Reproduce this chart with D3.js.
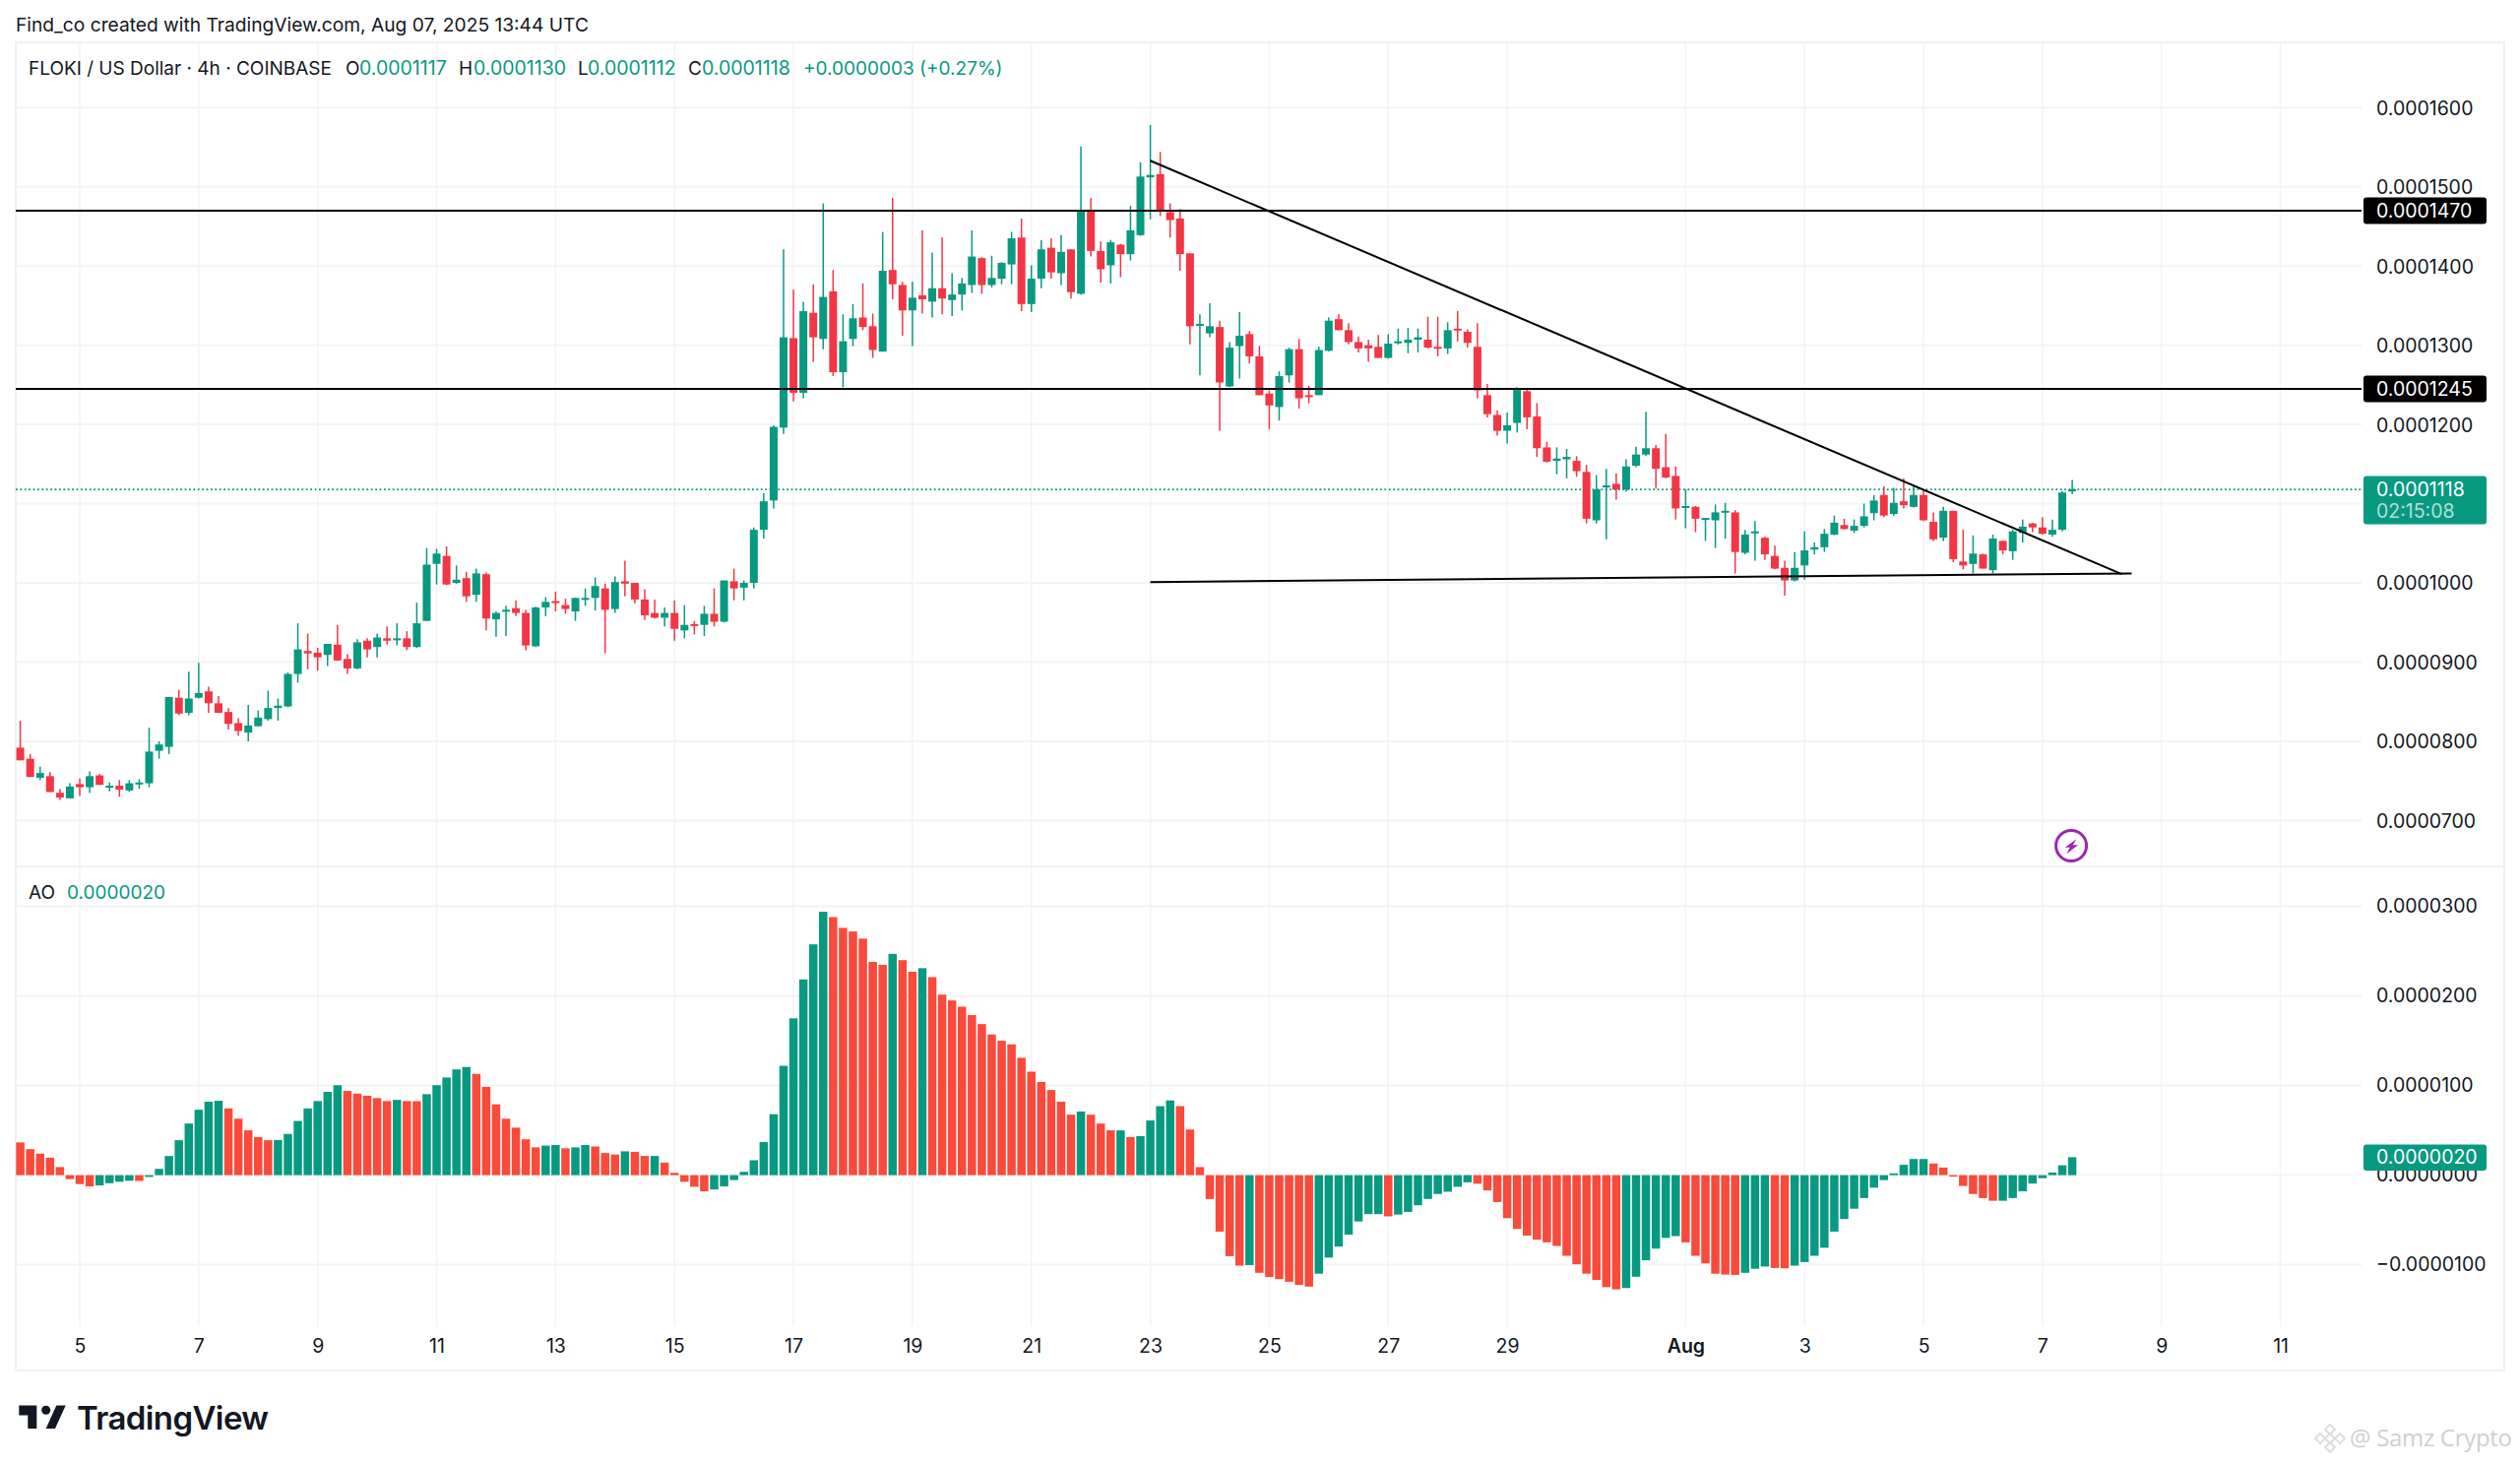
<!DOCTYPE html>
<html>
<head>
<meta charset="utf-8">
<title>FLOKI / US Dollar 4h</title>
<script src="https://cdn.jsdelivr.net/npm/d3@7"></script>
<style>
  html, body { margin: 0; padding: 0; background: #fff; }
  svg { display: block; }
  text { font-family: Inter, "Noto Sans", sans-serif; }
</style>
</head>
<body>
<svg id="chart" width="2560" height="1488"></svg>
<script>
// prices are in units of 0.0000001, bars are 4h starting Jul 4 00:00
const candleOpen = [
  792,778,754,756,735,728,746,742,757,742,
  744,738,746,747,788,793,855,836,855,863,
  848,837,823,811,819,828,842,844,885,914,
  912,909,922,904,892,927,919,930,928,930,
  919,952,1024,1034,1000,1006,985,1011,954,964,
  968,962,920,969,977,972,964,980,981,993,
  967,1002,1000,979,962,956,962,940,948,947,
  961,951,1002,994,1000,1067,1104,1196,1309,1240,
  1341,1308,1368,1266,1308,1335,1324,1292,1395,1376,
  1344,1363,1355,1372,1357,1364,1376,1410,1376,1384,
  1402,1436,1352,1384,1423,1391,1421,1365,1471,1419,
  1401,1427,1415,1439,1512,1516,1468,1460,1416,1325,
  1315,1323,1248,1299,1314,1286,1239,1222,1262,1295,
  1237,1237,1293,1333,1319,1304,1300,1298,1284,1303,
  1303,1307,1307,1298,1296,1321,1317,1298,1237,1212,
  1192,1202,1242,1210,1171,1154,1156,1154,1140,1079,
  1121,1125,1118,1148,1162,1170,1146,1135,1095,1096,
  1080,1079,1090,1089,1038,1063,1057,1034,1019,1003,
  1022,1042,1045,1061,1073,1066,1072,1088,1111,1087,
  1103,1096,1111,1077,1057,1091,1027,1024,1036,1016,
  1053,1040,1063,1075,1070,1061,1067,1117
];
const candleHigh = [
  826,784,768,761,740,747,753,762,759,748,
  751,751,752,817,800,856,865,888,899,869,
  857,842,829,846,839,864,854,887,949,936,
  918,923,947,910,929,930,936,945,949,939,
  975,1044,1043,1046,1022,1014,1018,1013,964,971,
  978,966,970,982,989,980,981,993,1007,999,
  1008,1028,1000,992,979,969,978,972,952,971,
  993,1003,1018,1003,1070,1113,1199,1421,1370,1355,
  1377,1479,1395,1339,1352,1378,1340,1443,1486,1380,
  1380,1445,1417,1436,1391,1385,1445,1411,1413,1405,
  1443,1460,1401,1433,1435,1439,1421,1551,1486,1431,
  1433,1428,1476,1531,1578,1544,1479,1472,1416,1339,
  1353,1331,1304,1342,1318,1299,1243,1267,1297,1308,
  1249,1298,1335,1339,1328,1311,1307,1313,1314,1321,
  1322,1321,1336,1336,1329,1343,1320,1328,1251,1218,
  1215,1247,1244,1227,1178,1171,1169,1160,1149,1136,
  1144,1138,1156,1172,1216,1174,1188,1147,1118,1097,
  1082,1099,1101,1092,1067,1078,1058,1047,1028,1039,
  1065,1051,1068,1085,1081,1080,1100,1111,1122,1120,
  1132,1122,1118,1089,1096,1091,1067,1060,1037,1061,
  1053,1067,1080,1076,1083,1080,1116,1130
];
const candleLow = [
  776,755,751,736,726,728,731,735,745,737,
  730,736,740,742,778,784,833,833,854,836,
  836,815,807,800,819,826,826,843,874,891,
  889,895,902,885,891,906,906,922,921,915,
  918,952,998,997,999,976,976,940,932,933,
  958,915,919,958,964,961,952,971,965,911,
  962,983,974,953,955,945,927,930,935,933,
  945,950,978,978,993,1056,1094,1188,1229,1233,
  1279,1295,1261,1247,1299,1319,1284,1292,1358,1312,
  1299,1340,1335,1339,1337,1344,1366,1365,1373,1377,
  1377,1343,1342,1372,1384,1376,1359,1364,1412,1379,
  1378,1386,1407,1438,1459,1463,1436,1394,1301,1262,
  1310,1192,1247,1258,1277,1237,1194,1205,1253,1220,
  1227,1237,1292,1319,1301,1291,1279,1284,1283,1301,
  1290,1291,1296,1286,1289,1305,1297,1233,1209,1186,
  1176,1190,1194,1159,1152,1137,1132,1134,1075,1075,
  1055,1105,1115,1146,1160,1119,1132,1080,1069,1064,
  1053,1044,1056,1012,1036,1028,1029,1017,984,1002,
  1004,1036,1039,1060,1067,1063,1070,1079,1083,1085,
  1094,1095,1078,1053,1053,1026,1017,1012,1018,1012,
  1036,1029,1051,1064,1061,1058,1065,1112
];
const candleClose = [
  776,755,760,736,729,743,742,756,745,744,
  739,747,748,787,796,856,835,854,861,848,
  836,822,813,820,830,842,845,885,916,911,
  906,923,902,892,925,916,931,927,930,919,
  949,1023,1037,998,1004,983,1012,955,962,966,
  962,921,969,976,975,967,981,981,996,966,
  1001,999,979,959,956,962,942,947,947,961,
  951,1003,993,1000,1067,1103,1197,1310,1240,1343,
  1310,1361,1266,1305,1334,1323,1294,1394,1377,1344,
  1360,1358,1372,1359,1364,1378,1412,1376,1385,1404,
  1435,1352,1384,1421,1392,1418,1367,1470,1419,1396,
  1430,1415,1445,1513,1515,1469,1458,1415,1324,1327,
  1324,1253,1297,1312,1286,1237,1224,1261,1295,1233,
  1235,1294,1331,1319,1304,1296,1296,1284,1302,1305,
  1307,1310,1297,1296,1319,1319,1303,1243,1213,1192,
  1199,1244,1209,1170,1153,1157,1159,1141,1081,1118,
  1123,1118,1147,1162,1170,1144,1133,1094,1097,1081,
  1082,1089,1091,1039,1061,1065,1036,1018,1003,1019,
  1041,1045,1062,1076,1068,1072,1084,1104,1085,1101,
  1098,1111,1079,1055,1091,1030,1022,1037,1018,1056,
  1041,1065,1071,1070,1062,1067,1114,1118
];
const aoValues = [
  36.5,29,24,19.5,9,-4.4,-10,-12.5,-11.4,-9,
  -7.4,-6.3,-6.5,-2,7,21.4,39,57.6,73,82,
  83,74.5,63,50,42.4,39,39.2,46,60.5,74.5,
  82.7,93,100.4,94,91,88.6,86,82.7,84,82.7,
  82.5,90.4,100.4,109,118,120.7,113,98.5,79,63,
  53,40,31,33,33.6,30,31,33.6,32,24.7,
  23,26.6,26,21.4,21.4,14,2.6,-7.4,-13,-18,
  -16,-12.5,-5.5,3.7,16.6,37,68,122,175,218.4,
  257.6,294,288,276,272,264,238,234.7,247,240,
  227,231,221,201.5,195,188,178.6,168.6,157,150,
  146,131,115.5,104,95,82,67.5,71,67.5,57.6,
  50,50,42.4,43.5,61,77,83.4,77,51,9,
  -26.6,-63,-90.4,-101,-100.4,-109,-113.7,-116,-119,-122.5,
  -124.4,-110,-92,-79.7,-66.4,-51.7,-43.5,-43.5,-46,-44,
  -41,-33.6,-26.6,-21,-18.5,-13,-8,-9.6,-17,-30,
  -48,-60,-67.5,-72,-75,-79,-90,-99.5,-110,-117,
  -125,-127.5,-126,-113.4,-95,-82,-70,-68,-75,-90,
  -98.5,-110,-111,-111.3,-109,-104.5,-102,-103.6,-104,-101,
  -97,-90,-81,-63,-49,-37.5,-25.6,-14,-5.5,2,
  11.5,18,18,13,8.5,-0.5,-12,-21,-25.6,-28.6,
  -28.6,-25.6,-18,-9.4,-3.4,3,11,20
];

const priceTicks = [700, 800, 900, 1000, 1100, 1200, 1300, 1400, 1500, 1600];
const aoTicks = [-100, 0, 100, 200, 300];
const timeLabels = ["5","7","9","11","13","15","17","19","21","23","25","27","29","Aug","3","5","7","9","11"];
const timeBars = [6,18,30,42,54,66,78,90,102,114,126,138,150,168,180,192,204,216,228];
const levelPrices = [1470, 1245];
const lastPrice = 1118;
const lastAO = 20;
const countdown = "02:15:08";
// [bar, price, bar, price]
const drawnLines = [
  [114, 1533, 212, 1011],
  [114, 1001, 213, 1012]
];

const GREEN = "#089981", RED = "#f23645", AO_RED = "#f94a3b", GRID = "#f3f4f6", INK = "#131722";
const fmt = v => (v < 0 ? "\u2212" : "") + (Math.abs(v) / 1e7).toFixed(7);

const svg = d3.select("#chart");
svg.append("rect").attr("width", 2560).attr("height", 1488).attr("fill", "#fff");

const left = 16, plotRight = 2399, top_ = 43, divider = 880, paneBottom = 1347, frameRight = 2544, frameBottom = 1392;

const x = d3.scaleLinear().domain([0, 207]).range([20.6, 2105.1]);
const yPrice = d3.scaleLinear().domain([700, 1600]).range([833.4, 109.3]);
const yAO = d3.scaleLinear().domain([-100, 300]).range([1284.6, 920.6]);

const grid = svg.append("g").attr("stroke", GRID);
grid.selectAll(".v1").data(timeBars).join("line")
  .attr("x1", d => x(d)).attr("x2", d => x(d)).attr("y1", top_).attr("y2", divider).attr("stroke-width", 1.5);
grid.selectAll(".v2").data(timeBars).join("line").attr("class", "v2")
  .attr("x1", d => x(d)).attr("x2", d => x(d)).attr("y1", divider).attr("y2", paneBottom).attr("stroke-width", 1.5);
grid.selectAll(".h1").data(priceTicks).join("line").attr("class", "h1")
  .attr("x1", left).attr("x2", plotRight).attr("y1", d => yPrice(d)).attr("y2", d => yPrice(d)).attr("stroke-width", 2);
grid.selectAll(".h2").data(aoTicks).join("line").attr("class", "h2")
  .attr("x1", left).attr("x2", plotRight).attr("y1", d => yAO(d)).attr("y2", d => yAO(d)).attr("stroke-width", 2);

// frame and pane divider
const frame = svg.append("g").attr("stroke", "#f0f1f3").attr("stroke-width", 2).attr("fill", "none");
frame.append("path").attr("d", `M${left},${frameBottom}V${top_}H${frameRight}V${frameBottom}H${left}`);
frame.append("line").attr("x1", left).attr("x2", frameRight).attr("y1", divider).attr("y2", divider);

// last price dotted line
svg.append("line").attr("x1", left).attr("x2", plotRight)
  .attr("y1", yPrice(lastPrice)).attr("y2", yPrice(lastPrice))
  .attr("stroke", GREEN).attr("stroke-width", 1.6).attr("stroke-dasharray", "1.8 2.6");

// candles
const bars = d3.range(candleOpen.length);
const candleColor = i => candleClose[i] >= candleOpen[i] ? GREEN : RED;
svg.append("g").selectAll("line").data(bars).join("line")
  .attr("x1", i => x(i)).attr("x2", i => x(i))
  .attr("y1", i => yPrice(candleHigh[i])).attr("y2", i => yPrice(candleLow[i]))
  .attr("stroke", candleColor).attr("stroke-width", 1.5);
svg.append("g").selectAll("rect").data(bars).join("rect")
  .attr("x", i => x(i) - 4).attr("width", 8)
  .attr("y", i => yPrice(Math.max(candleOpen[i], candleClose[i])))
  .attr("height", i => Math.max(2, Math.abs(yPrice(candleOpen[i]) - yPrice(candleClose[i]))))
  .attr("fill", candleColor);

// horizontal levels and trend lines
svg.append("g").selectAll("line").data(levelPrices).join("line")
  .attr("x1", left).attr("x2", plotRight)
  .attr("y1", d => yPrice(d)).attr("y2", d => yPrice(d))
  .attr("stroke", "#000").attr("stroke-width", 2);
svg.append("g").selectAll("line").data(drawnLines).join("line")
  .attr("x1", d => x(d[0])).attr("y1", d => yPrice(d[1]))
  .attr("x2", d => x(d[2])).attr("y2", d => yPrice(d[3]))
  .attr("stroke", "#000").attr("stroke-width", 2);

// AO histogram, green when rising
const aoColor = i => (i > 0 && aoValues[i] >= aoValues[i - 1]) ? GREEN : AO_RED;
svg.append("g").selectAll("rect").data(bars).join("rect")
  .attr("x", i => x(i) - 4.25).attr("width", 8.5)
  .attr("y", i => Math.min(yAO(0), yAO(aoValues[i])))
  .attr("height", i => Math.max(1.5, Math.abs(yAO(aoValues[i]) - yAO(0))))
  .attr("fill", aoColor);

// axes
function styleAxis(g) {
  g.select(".domain").remove();
  g.selectAll("text").attr("fill", INK).style("font-family", "Inter").style("font-size", "19.5px");
}
const tagX = 2401, tagW = 125, labelX = 2414;
svg.append("g").attr("transform", `translate(${labelX},0.7)`)
  .call(d3.axisRight(yPrice).tickValues(priceTicks).tickSize(0).tickPadding(0).tickFormat(fmt))
  .call(styleAxis);
svg.append("g").attr("transform", `translate(${labelX},0)`)
  .call(d3.axisRight(yAO).tickValues(aoTicks).tickSize(0).tickPadding(0).tickFormat(fmt))
  .call(styleAxis);
svg.append("g").attr("transform", "translate(0,1360)")
  .call(d3.axisBottom(x).tickValues(timeBars).tickSize(0).tickPadding(0).tickFormat((d, i) => timeLabels[i]))
  .call(styleAxis)
  .selectAll("text").style("font-weight", (d, i) => timeLabels[i] === "Aug" ? 600 : 400);

// price tags
function tag(y, h, fill) {
  const g = svg.append("g");
  g.append("rect").attr("x", tagX).attr("y", y).attr("width", tagW).attr("height", h).attr("rx", 3).attr("fill", fill);
  return g;
}
levelPrices.forEach(p => {
  const g = tag(yPrice(p) - 13.5, 27, "#000");
  g.append("text").attr("x", labelX).attr("y", yPrice(p)).attr("dy", ".35em")
    .attr("fill", "#fff").attr("font-size", 19.5).text(fmt(p));
});
const lastTag = tag(yPrice(lastPrice) - 13.5, 49, GREEN);
lastTag.append("text").attr("x", labelX).attr("y", yPrice(lastPrice)).attr("dy", ".35em")
  .attr("fill", "#fff").attr("font-size", 19.5).text(fmt(lastPrice));
lastTag.append("text").attr("x", labelX).attr("y", yPrice(lastPrice) + 22.5).attr("dy", ".35em")
  .attr("fill", "#fff").attr("fill-opacity", 0.7).attr("font-size", 19.5).text(countdown);
const aoTag = tag(yAO(lastAO) - 13, 26.5, GREEN);
aoTag.append("text").attr("x", labelX).attr("y", yAO(lastAO)).attr("dy", ".35em")
  .attr("fill", "#fff").attr("font-size", 19.5).text(fmt(lastAO));

// header texts
const put = (tx, ty, s, fill, size) => svg.append("text").attr("x", tx).attr("y", ty).attr("dy", ".35em")
  .attr("fill", fill).attr("font-size", size || 19).text(s);
put(16, 25, "Find_co created with TradingView.com, Aug 07, 2025 13:44 UTC", INK, 19.2);
put(29, 69, "FLOKI / US Dollar \u00b7 4h \u00b7 COINBASE", INK, 19);
[[351, "O", 365, "0.0001117"], [466, "H", 481, "0.0001130"], [587, "L", 597, "0.0001112"], [699, "C", 713, "0.0001118"]]
  .forEach(d => {
    put(d[0], 69, d[1], INK);
    put(d[2], 69, d[3], GREEN, 19.5);
  });
put(816, 69, "+0.0000003 (+0.27%)", GREEN);
put(29, 906.5, "AO", INK);
put(68, 906.5, fmt(lastAO), GREEN);

// lightning mark on the last session
const bolt = svg.append("g").attr("transform", `translate(${x(207) - 1},859)`);
bolt.append("circle").attr("r", 15.5).attr("fill", "#fff").attr("stroke", "#9c27b0").attr("stroke-width", 3);
bolt.append("path").attr("d", "M5.3,-6.7 L-6.3,1.7 L-1.3,1.7 L-4.7,8.3 L7,-0.7 L1.7,-0.7 Z").attr("fill", "#9c27b0");

// TradingView logo
const logo = svg.append("g").attr("fill", "#131722");
logo.append("path").attr("d", "M19.3,1427.5H37.3V1451H28.3V1437.5H19.3Z");
logo.append("circle").attr("cx", 46.7).attr("cy", 1432.3).attr("r", 4.5);
logo.append("path").attr("d", "M57.3,1427.5H66.7L56,1451H46.7Z");
logo.append("text").attr("x", 78).attr("y", 1440).attr("dy", ".35em")
  .attr("font-size", 33).attr("font-weight", 600).attr("textLength", 195).text("TradingView");

// watermark
const wm = svg.append("g").attr("fill", "#d0d0d0");
[[0, -9], [-10, 0], [10, 0], [0, 0], [0, 9]].forEach(p => {
  wm.append("path").attr("fill", "none").attr("stroke", "#dedede").attr("stroke-width", 2)
    .attr("d", `M${2367 + p[0]},${1461 + p[1] - 5}l5,5l-5,5l-5,-5z`);
});
wm.append("text").attr("x", 2387).attr("y", 1461).attr("dy", ".35em")
  .style("font-family", "Open Sans").attr("font-size", 24).attr("textLength", 165).text("@ Samz Crypto");
</script>
</body>
</html>
